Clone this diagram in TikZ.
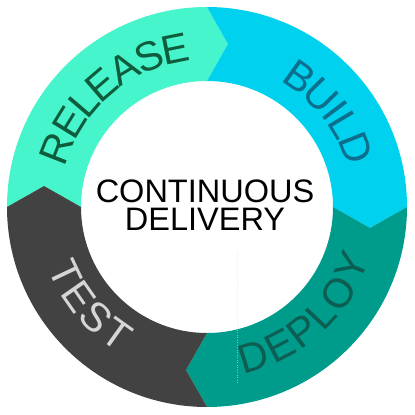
\documentclass[tikz,border=0pt]{standalone}
\usepackage{fontspec}
\setmainfont{Liberation Sans}
\usetikzlibrary{decorations.text}
\definecolor{relc}{HTML}{46F5CC}
\definecolor{bldc}{HTML}{00D1EE}
\definecolor{depc}{HTML}{009C8B}
\definecolor{tstc}{HTML}{424242}
\definecolor{relt}{HTML}{0E5C3C}
\definecolor{bldt}{HTML}{0B6F8D}
\definecolor{dept}{HTML}{0D5E52}
\definecolor{tstt}{HTML}{D6D6D6}
\definecolor{faint}{HTML}{DCDCF5}
\newcommand\ringfont{\fontsize{41pt}{41pt}\selectfont}
\begin{document}
\begin{tikzpicture}[x=1pt,y=1pt]
\useasboundingbox (-207,-208) rectangle (208,207);
\fill[white] (-207,-208) rectangle (208,207);
% ring segments (chevron joints)
\foreach \a/\b/\c in {180/90/relc, 90/0/bldc, 0/-90/depc, -90/-180/tstc}{
  \fill[\c] (\a:200pt) arc[start angle=\a, end angle=\b, radius=200pt]
     -- ({\b-7.34}:164.3pt) -- (\b:126pt)
     arc[start angle=\b, end angle=\a, radius=126pt]
     -- ({\a-7.34}:164.3pt) -- cycle;
}
% ring labels
\path[decorate, decoration={text along path, text align=center, raise=-14pt, text={|\ringfont\color{relt}|RELEASE}}]
  (175.2:161pt) arc[start angle=175.2, end angle=85.2, radius=161pt];
\path[decorate, decoration={text along path, text align=center, raise=-14pt, text={|\ringfont\color{bldt}|BUILD}}]
  (82.9:160pt) arc[start angle=82.9, end angle=-7.1, radius=160pt];
\path[decorate, decoration={text along path, text align=center, raise=-14pt, text={|\ringfont\color{dept}|DEPLOY}}]
  (-92.8:157pt) arc[start angle=-92.8, end angle=-2.8, radius=157pt];
\path[decorate, decoration={text along path, text align=center, raise=-14pt, text={|\ringfont\color{tstt}|TEST}}]
  (-185.1:156pt) arc[start angle=-185.1, end angle=-95.1, radius=156pt];
% centre title
\node[inner sep=0pt, align=center, font=\fontsize{32.5pt}{28.4pt}\selectfont] (title) at (-2,2) {CONTINUOUS\\DELIVERY};
% faint dotted guide
\coordinate (d1) at (30,-45);
\coordinate (d2) at (30,-176);
\draw[faint, dotted, line width=0.5pt, opacity=0.6] (d1) -- (d2);
\end{tikzpicture}
\end{document}
